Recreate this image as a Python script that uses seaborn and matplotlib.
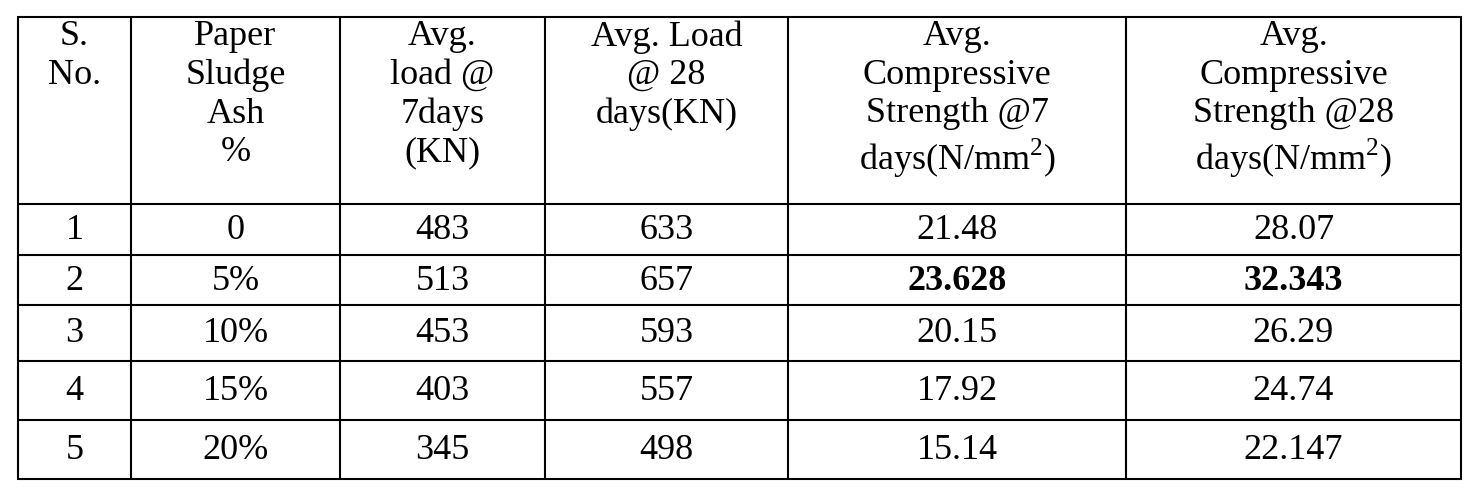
import matplotlib
matplotlib.use("Agg")
import matplotlib.pyplot as plt
import seaborn as sns

sns.set_theme(style="white")
plt.rcParams['font.family'] = ['Liberation Serif', 'DejaVu Serif']
plt.rcParams['text.color'] = 'black'
plt.rcParams['mathtext.fontset'] = 'custom'
plt.rcParams['mathtext.rm'] = 'Liberation Serif'

headers = ["S.\nNo.", "Paper\nSludge\nAsh\n%", "Avg.\nload @\n7days\n(KN)", "Avg. Load\n@ 28\ndays(KN)",
           "Avg.\nCompressive\nStrength @7\ndays(N/mm$^2$)", "Avg.\nCompressive\nStrength @28\ndays(N/mm$^2$)"]
sno = ["1", "2", "3", "4", "5"]
ash = ["0", "5%", "10%", "15%", "20%"]
load7 = ["483", "513", "453", "403", "345"]
load28 = ["633", "657", "593", "557", "498"]
cs7 = ["21.48", "23.628", "20.15", "17.92", "15.14"]
cs28 = ["28.07", "32.343", "26.29", "24.74", "22.147"]
bold_row = 1

W, H = 1473, 489
fig = plt.figure(figsize=(W/100, H/100), dpi=100)
ax = fig.add_axes([0, 0, 1, 1])
ax.set_xlim(0, W); ax.set_ylim(H, 0); ax.axis('off')

xs = [18, 131, 340, 545, 788, 1126, 1461]
ys = [18, 205, 256, 306, 362, 421, 480]
for x in xs:
    ax.plot([x, x], [ys[0], ys[-1]], color='black', lw=1.5)
for y in ys:
    ax.plot([xs[0], xs[-1]], [y, y], color='black', lw=1.5)

fs = 26
for j, h in enumerate(headers):
    cx = (xs[j] + xs[j+1]) / 2
    ax.text(cx, ys[0] + 2, h, ha='center', va='top', fontsize=fs, linespacing=1.22, color='black')

cols = [sno, ash, load7, load28, cs7, cs28]
for j, col in enumerate(cols):
    cx = (xs[j] + xs[j+1]) / 2
    for i, v in enumerate(col):
        cy = (ys[i+1] + ys[i+2]) / 2
        w = 'bold' if (i == bold_row and j >= 4) else 'normal'
        ax.text(cx, cy, v, ha='center', va='center', fontsize=fs, fontweight=w, color='black')

fig.savefig("out.png", dpi=100, facecolor='white')
